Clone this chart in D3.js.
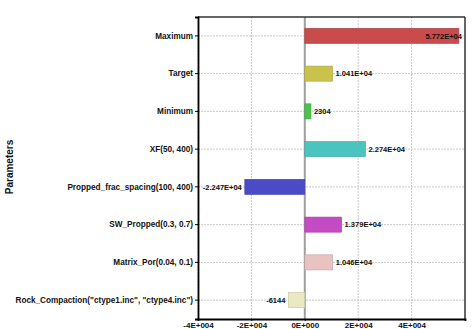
<!DOCTYPE html>
<html><head><meta charset="utf-8">
<script src="https://cdn.jsdelivr.net/npm/d3@7"></script>
<style>body{margin:0;background:#fff;}svg{display:block;}</style>
</head><body>
<svg id="c" width="474" height="329"></svg>
<script>
const categories = ["Maximum","Target","Minimum","XF(50, 400)","Propped_frac_spacing(100, 400)","SW_Propped(0.3, 0.7)","Matrix_Por(0.04, 0.1)","Rock_Compaction(\"ctype1.inc\", \"ctype4.inc\")"];
const values = [57720, 10410, 2304, 22740, -22470, 13790, 10460, -6144];
const valueLabels = ["5.772E+04","1.041E+04","2304","2.274E+04","-2.247E+04","1.379E+04","1.046E+04","-6144"];
const colors = ["#c94b4b","#c8c44b","#4bc44b","#4bc4c0","#4b4bc8","#c44bc4","#e9c2c2","#e9e9c4"];
const xTicks = [-40000,-20000,0,20000,40000];
const xTickLabels = ["-4E+004","-2E+004","0E+000","2E+004","4E+004"];

const svg = d3.select("#c");
const L=198, R=465, T=17, B=319;
const x = d3.scaleLinear().domain([-40000,60000]).range([L,R]);
const y = d3.scaleBand().domain(categories).range([T,B]).paddingInner(0.6).paddingOuter(0.3);

// grid
const g = svg.append("g");
g.selectAll(".vg").data(xTicks).enter().append("line")
  .attr("x1",d=>x(d)).attr("x2",d=>x(d)).attr("y1",T).attr("y2",B)
  .attr("stroke","#c8c8c8").attr("stroke-width",1).attr("stroke-dasharray","2,1");
g.selectAll(".hg").data(categories).enter().append("line")
  .attr("x1",L).attr("x2",R).attr("y1",d=>y(d)+y.bandwidth()/2).attr("y2",d=>y(d)+y.bandwidth()/2)
  .attr("stroke","#c8c8c8").attr("stroke-width",1).attr("stroke-dasharray","2,1");
// zero line
g.append("line").attr("x1",x(0)).attr("x2",x(0)).attr("y1",T).attr("y2",B)
  .attr("stroke","#a0a0a0").attr("stroke-width",2);

// bars
svg.selectAll(".bar").data(values).enter().append("rect")
  .attr("x",d=>x(Math.min(0,d))).attr("width",d=>Math.abs(x(d)-x(0)))
  .attr("y",(d,i)=>y(categories[i])).attr("height",y.bandwidth())
  .attr("fill",(d,i)=>colors[i])
  .attr("stroke",(d,i)=>d3.color(colors[i]).darker(0.5)).attr("stroke-width",0.6);

// value labels
svg.selectAll(".vl").data(values).enter().append("text")
  .attr("x",(d,i)=> i===0 ? x(d)+3 : (d<0 ? x(d)-3 : x(d)+3))
  .attr("y",(d,i)=>y(categories[i])+y.bandwidth()/2)
  .attr("dy","0.35em")
  .attr("text-anchor",(d,i)=> i===0 ? "end" : (d<0 ? "end" : "start"))
  .attr("font-family","Liberation Sans, Arial, sans-serif").attr("font-weight","bold").attr("font-size","7.5px")
  .attr("fill","#111")
  .text((d,i)=>valueLabels[i]);

// frame
svg.append("line").attr("x1",L).attr("x2",R).attr("y1",T).attr("y2",T).attr("stroke","#333").attr("stroke-width",1.5);
svg.append("line").attr("x1",R).attr("x2",R).attr("y1",T).attr("y2",B).attr("stroke","#333").attr("stroke-width",1.5);

// y axis
const ya = svg.append("g").attr("transform",`translate(${L},0)`)
  .call(d3.axisLeft(y).tickSize(3).tickPadding(2));
ya.select(".domain").attr("stroke","#000").attr("stroke-width",1.8);
ya.selectAll(".tick line").attr("stroke","#000");
ya.selectAll("text").attr("font-family","Liberation Sans, Arial, sans-serif").attr("font-weight","bold").attr("font-size","8.2px").attr("fill","#111");

// x axis
const xa = svg.append("g").attr("transform",`translate(0,${B})`)
  .call(d3.axisBottom(x).tickValues(xTicks).tickFormat((d,i)=>xTickLabels[i]).tickSize(2).tickPadding(1));
xa.select(".domain").attr("stroke","#000").attr("stroke-width",1.8);
xa.selectAll(".tick line").attr("stroke","#000");
xa.selectAll("text").attr("font-family","Liberation Sans, Arial, sans-serif").attr("font-weight","bold").attr("font-size","8px").attr("fill","#111");

// y title
svg.append("text").attr("transform","translate(13,167) rotate(-90)")
  .attr("text-anchor","middle")
  .attr("font-family","Liberation Sans, Arial, sans-serif").attr("font-weight","bold").attr("font-size","10px").attr("fill","#111")
  .text("Parameters");
</script>
</body></html>
